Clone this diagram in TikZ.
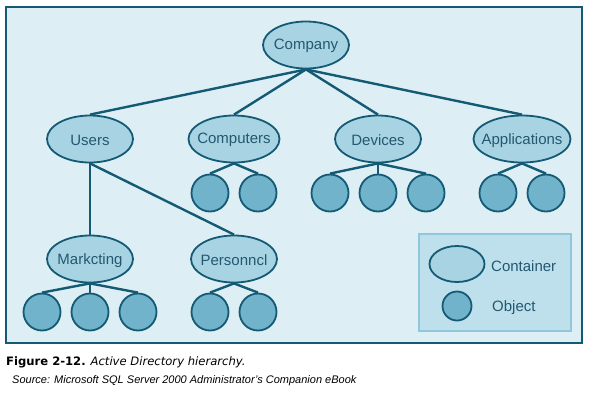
\documentclass[tikz,border=0pt]{standalone}
\usepackage{fontspec}
\setmainfont{Liberation Sans}
\newfontfamily\capfont{DejaVu Sans}
\usetikzlibrary{shapes.geometric}
\pgfdeclarelayer{bg}
\pgfdeclarelayer{edges}
\pgfsetlayers{bg,edges,main}
\definecolor{frameblue}{HTML}{155A74}
\definecolor{paleblue}{HTML}{DDEFF5}
\definecolor{contfill}{HTML}{A8D3E3}
\definecolor{objfill}{HTML}{72B3CC}
\definecolor{legfill}{HTML}{BEE0EC}
\definecolor{legline}{HTML}{90C7DA}
\definecolor{txt}{HTML}{245870}
\tikzset{
  container/.style={ellipse, draw=frameblue, line width=1.8pt, fill=contfill,
    minimum width=86pt, minimum height=47pt, inner sep=0pt},
  ctext/.style={font=\fontsize{15}{16}\selectfont, text=txt, inner sep=0pt, yshift=-1.2pt},
  objnode/.style={circle, draw=frameblue, line width=1.8pt, fill=objfill,
    minimum size=37pt, inner sep=0pt},
  link/.style={draw=frameblue, line width=2.4pt},
  legtext/.style={anchor=west, font=\fontsize{15}{16}\selectfont, text=txt, inner sep=0pt}
}
\begin{document}
\begin{tikzpicture}[x=1pt,y=-1pt]
\useasboundingbox (0,0) rectangle (599,400);
\begin{pgfonlayer}{bg}
  \fill[white] (0,0) rectangle (599,400);
  \draw[fill=paleblue, draw=frameblue, line width=2.6pt] (6,7) rectangle (582,343);
  \draw[fill=legfill, draw=legline, line width=1.5pt] (419,234) rectangle (571,331);
\end{pgfonlayer}

\node[container, label={[ctext]center:Company}] (company) at (306,45) {};
\node[container, label={[ctext]center:Users}] (users) at (90,139) {};
\node[container, minimum width=91pt, label={[ctext]center:Computers}] (computers) at (234,139) {};
\node[container, label={[ctext]center:Devices}] (devices) at (378,139) {};
\node[container, minimum width=97pt, label={[ctext]center:Applications}] (apps) at (522,139) {};
\node[container, label={[ctext]center:Markcting}] (marketing) at (90,259) {};
\node[container, label={[ctext]center:Personncl}] (personnel) at (234,259) {};

\node[objnode] (c1) at (210,193) {};
\node[objnode] (c2) at (258,193) {};
\node[objnode] (d1) at (330,193) {};
\node[objnode] (d2) at (378,193) {};
\node[objnode] (d3) at (426,193) {};
\node[objnode] (a1) at (498,193) {};
\node[objnode] (a2) at (546,193) {};
\node[objnode] (m1) at (42,312) {};
\node[objnode] (m2) at (90,312) {};
\node[objnode] (m3) at (138,312) {};
\node[objnode] (p1) at (210,312) {};
\node[objnode] (p2) at (258,312) {};

\begin{pgfonlayer}{edges}
  \foreach \t in {users,computers,devices,apps}
    \draw[link] (company.south) -- (\t.north);
  \draw[link] (users.south) -- (marketing.north);
  \draw[link] (users.south) -- (personnel.north);
  \foreach \p/\cs in {computers/{c1,c2}, devices/{d1,d2,d3}, apps/{a1,a2},
                     marketing/{m1,m2,m3}, personnel/{p1,p2}}
    \foreach \c in \cs
      \draw[link] (\p.south) -- (\c.north);
\end{pgfonlayer}

\node[container, minimum width=55pt, minimum height=36pt] (legc) at (457,264) {};
\node[objnode, minimum size=29pt] (lego) at (457,306) {};
\node[legtext] (legct) at (491,266) {Container};
\node[legtext] (legot) at (492,308) {Object};

\node[anchor=base west, inner sep=0pt, font=\capfont\fontsize{11.6}{13}\selectfont] (cap1) at (6,365)
  {\textbf{Figure 2-12.} \textit{Active Directory hierarchy.}};
\node[anchor=base west, inner sep=0pt, font=\fontsize{11}{13}\selectfont\itshape] (cap2) at (12,383)
  {Source: Microsoft SQL Server 2000 Administrator's Companion eBook};
\end{tikzpicture}
\end{document}
